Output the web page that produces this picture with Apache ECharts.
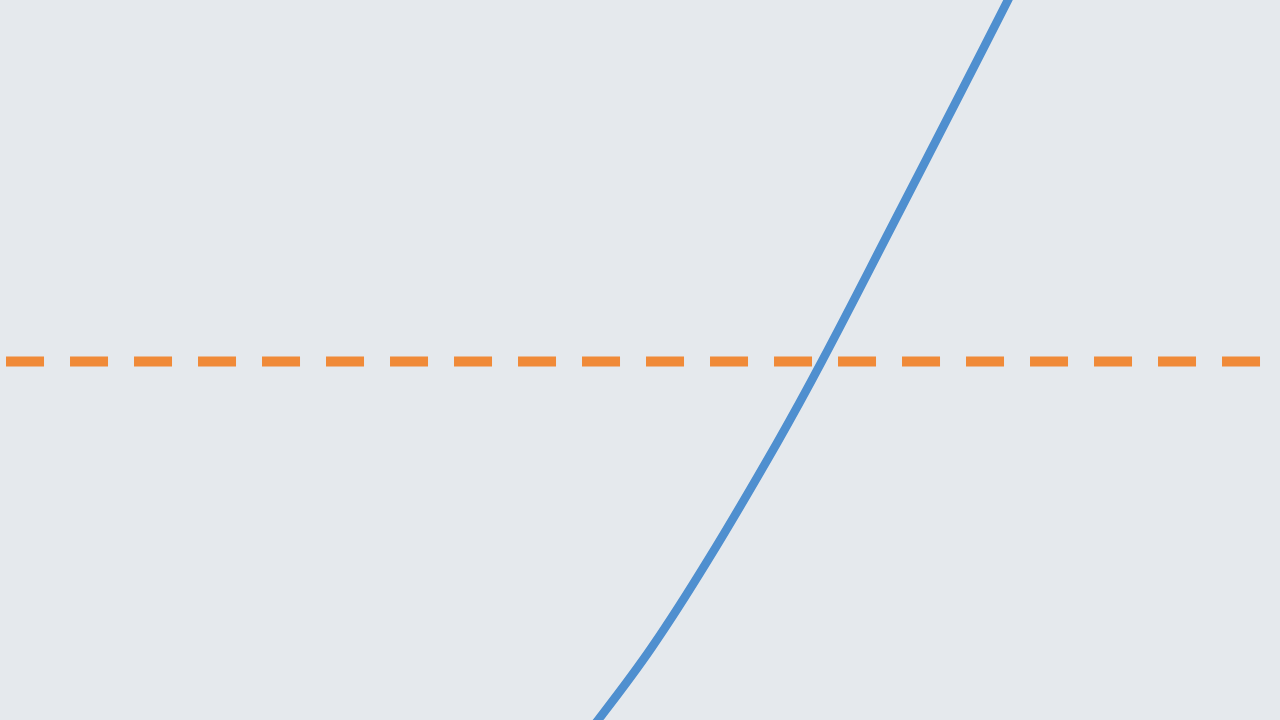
<!DOCTYPE html>
<html>
<head>
<meta charset="utf-8">
<script src="https://cdn.jsdelivr.net/npm/echarts@6/dist/echarts.min.js"></script>
<style>
html,body{margin:0;padding:0;background:#e5e9ed;}
#chart{width:1280px;height:720px;}
</style>
</head>
<body>
<div id="chart"></div>
<script>
// Curve sample points (x, y) in chart units (x: 0-100, y: 0-100)
const curveX = [42.2, 46.72, 50.94, 55.31, 60.70, 64.22, 69.73, 75.16, 78.75, 81.56];
const curveY = [-10, 0, 10.14, 22.22, 38.47, 49.86, 68.75, 87.5, 100, 110];
// Threshold line
const thresholdValue = 49.8;
const thresholdX = [0.47, 98.44];

const chart = echarts.init(document.getElementById('chart'));
chart.setOption({
  backgroundColor: '#e5e9ed',
  animation: false,
  grid: {left: 0, right: 0, top: 0, bottom: 0},
  xAxis: {type: 'value', min: 0, max: 100, show: false},
  yAxis: {type: 'value', min: 0, max: 100, show: false},
  series: [
    {
      type: 'line',
      data: thresholdX.map(x => [x, thresholdValue]),
      symbol: 'none',
      lineStyle: {color: '#f08a38', width: 10, type: [38, 26], cap: 'butt'},
      z: 1
    },
    {
      type: 'line',
      data: curveX.map((x, i) => [x, curveY[i]]),
      smooth: 0.4,
      symbol: 'none',
      clip: true,
      lineStyle: {color: '#4f8fcf', width: 8.5},
      z: 2
    }
  ]
});
</script>
</body>
</html>
